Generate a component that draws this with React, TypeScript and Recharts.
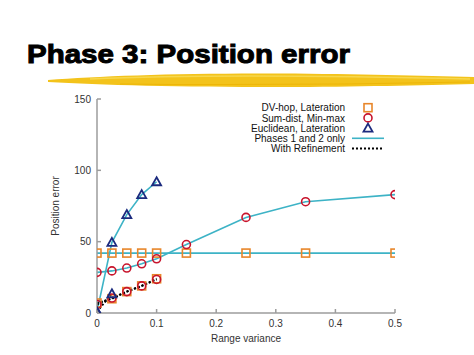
import React from 'react';
import { LineChart, Line, XAxis, YAxis } from 'recharts';

// ---- data ----
const xPhase = [0, 0.025, 0.05, 0.075, 0.1, 0.15, 0.25, 0.35, 0.5];
const dvHopPhase = [42, 42, 42, 42, 42, 42, 42, 42, 42];
const sumDistPhase = [28.5, 29.5, 31.5, 34.5, 38, 48, 67, 78, 83];
const xEuclidPhase = [0, 0.025, 0.05, 0.075, 0.1];
const euclidPhase = [1, 49.5, 69, 83, 92];
const xRefine = [0, 0.025, 0.05, 0.075, 0.1];
const dvHopRefine = [7, 10, 15, 19, 24];
const sumDistRefine = [6, 10.5, 15, 19, 23.5];
const xEuclidRefine = [0, 0.025];
const euclidRefine = [1, 13.5];
const xTicks = [0, 0.1, 0.2, 0.3, 0.4, 0.5];
const yTicks = [0, 50, 100, 150];
const seriesLabels = ['DV-hop, Lateration', 'Sum-dist, Min-max', 'Euclidean, Lateration'];
const styleLabels = ['Phases 1 and 2 only', 'With Refinement'];
const titleText = 'Phase 3: Position error';
const xLabel = 'Range variance';
const yLabel = 'Position error';

const zip = (xs: number[], ys: number[]) => xs.map((x, i) => ({ x, y: ys[i] }));

const TEAL = '#3db3c6';
const ORANGE = '#e8862a';
const RED = '#c8142c';
const NAVY = '#1b2a7e';
const FRAME = '#9c9c9c';
const FONT = '"Liberation Sans", Arial, Helvetica, sans-serif';

const Square = ({ cx, cy }: any) => (
  <rect x={cx - 4} y={cy - 4} width={8} height={8} fill="none" stroke={ORANGE} strokeWidth={1.6} />
);
const Circ = ({ cx, cy }: any) => (
  <circle cx={cx} cy={cy} r={4} fill="none" stroke={RED} strokeWidth={1.6} />
);
const Tri = ({ cx, cy }: any) => (
  <path d={`M${cx},${cy - 4.5} L${cx + 4.5},${cy + 3.5} L${cx - 4.5},${cy + 3.5} Z`} fill="none" stroke={NAVY} strokeWidth={1.8} />
);

const dotFn = (Comp: any, tag: string) => (p: any) => <Comp key={`${tag}-${p.index}`} cx={p.cx} cy={p.cy} />;

export default function App() {
  const tickStyle = { fill: '#333', fontSize: 10, fontFamily: FONT };
  const rowY = [107.7, 117.9, 128.1, 138.3, 148.5];
  return (
    <div style={{ position: 'absolute', left: 0, top: 0, width: 474, height: 355, background: '#fff', overflow: 'hidden' }}>
      <div style={{ position: 'absolute', left: 0, top: 0 }}>
        <LineChart width={474} height={355} margin={{ top: 99, right: 79, bottom: 12, left: 57 }}>
          <XAxis
            xAxisId="b"
            type="number"
            dataKey="x"
            domain={[0, 0.5]}
            ticks={xTicks}
            allowDataOverflow
            orientation="bottom"
            height={30}
            tickSize={-4}
            tickMargin={11}
            stroke={FRAME}
            strokeWidth={1.5}
            tick={tickStyle}
            tickFormatter={(v: number) => String(v)}
          />
          <XAxis
            xAxisId="t"
            type="number"
            dataKey="x"
            domain={[0, 0.5]}
            ticks={xTicks}
            allowDataOverflow
            orientation="top"
            height={0}
            tickSize={-4}
            stroke={FRAME}
            strokeWidth={1.5}
            tickFormatter={() => ''}
          />
          <YAxis
            yAxisId="l"
            type="number"
            domain={[0, 150]}
            ticks={yTicks}
            allowDataOverflow
            orientation="left"
            width={40}
            tickSize={-4}
            tickMargin={10}
            stroke={FRAME}
            strokeWidth={1.5}
            tick={tickStyle}
          />
          <YAxis
            yAxisId="r"
            type="number"
            domain={[0, 150]}
            ticks={yTicks}
            allowDataOverflow
            orientation="right"
            width={0}
            tickSize={-4}
            stroke={FRAME}
            strokeWidth={1.5}
            tickFormatter={() => ''}
          />
          <Line xAxisId="b" yAxisId="l" data={zip(xPhase, dvHopPhase)} dataKey="y" stroke={TEAL} strokeWidth={1.6} dot={dotFn(Square, 'a')} isAnimationActive={false} />
          <Line xAxisId="b" yAxisId="l" data={zip(xPhase, sumDistPhase)} dataKey="y" stroke={TEAL} strokeWidth={1.6} dot={dotFn(Circ, 'b')} isAnimationActive={false} />
          <Line xAxisId="b" yAxisId="l" data={zip(xEuclidPhase, euclidPhase)} dataKey="y" stroke={TEAL} strokeWidth={1.6} dot={dotFn(Tri, 'c')} isAnimationActive={false} />
          <Line xAxisId="b" yAxisId="l" data={zip(xRefine, dvHopRefine)} dataKey="y" stroke="#000" strokeWidth={2} strokeDasharray="2 2" dot={dotFn(Square, 'd')} isAnimationActive={false} />
          <Line xAxisId="b" yAxisId="l" data={zip(xRefine, sumDistRefine)} dataKey="y" stroke="#000" strokeWidth={2} strokeDasharray="2 2" dot={dotFn(Circ, 'e')} isAnimationActive={false} />
          <Line xAxisId="b" yAxisId="l" data={zip(xEuclidRefine, euclidRefine)} dataKey="y" stroke="#000" strokeWidth={2} strokeDasharray="2 2" dot={dotFn(Tri, 'f')} isAnimationActive={false} />
        </LineChart>
      </div>
      <svg width={474} height={355} style={{ position: 'absolute', left: 0, top: 0, pointerEvents: 'none' }}>
        {/* title */}
        <text x={27} y={63} fontFamily={FONT} fontWeight="bold" fontSize={26} fill="#000" stroke="#000" strokeWidth={1} textLength={323} lengthAdjust="spacingAndGlyphs">
          {titleText}
        </text>
        {/* yellow brush stroke */}
        <path d="M48,80 C100,76 180,73 280,73.5 C360,74 420,76 474,77 L474,84 C420,85 360,87 280,87 C180,87 100,85 48,82 Z" fill="#f3c31b" />
        <path d="M90,79 C180,75 300,75 470,79" stroke="#f8dc5a" strokeWidth={1.5} fill="none" opacity={0.8} />
        <path d="M120,84 C220,85 320,85 470,82" stroke="#e9b000" strokeWidth={1.2} fill="none" opacity={0.7} />
        {/* axis labels */}
        <text x={246} y={342} textAnchor="middle" fontFamily={FONT} fontSize={10} fill="#333">{xLabel}</text>
        <text x={0} y={0} transform="translate(59,206) rotate(-90)" textAnchor="middle" fontFamily={FONT} fontSize={10} fill="#333">{yLabel}</text>
        {/* legend */}
        {seriesLabels.map((s, i) => (
          <text key={s} x={345} y={rowY[i] + 3.6} textAnchor="end" fontFamily={FONT} fontSize={10} fill="#111">{s}</text>
        ))}
        {styleLabels.map((s, i) => (
          <text key={s} x={345} y={rowY[i + 3] + 3.6} textAnchor="end" fontFamily={FONT} fontSize={10} fill="#111">{s}</text>
        ))}
        <Square cx={368} cy={rowY[0]} />
        <Circ cx={368} cy={rowY[1]} />
        <Tri cx={368} cy={rowY[2]} />
        <line x1={352} x2={384} y1={rowY[3]} y2={rowY[3]} stroke={TEAL} strokeWidth={1.6} />
        <line x1={352} x2={384} y1={rowY[4]} y2={rowY[4]} stroke="#000" strokeWidth={2} strokeDasharray="2 2" />
      </svg>
    </div>
  );
}
